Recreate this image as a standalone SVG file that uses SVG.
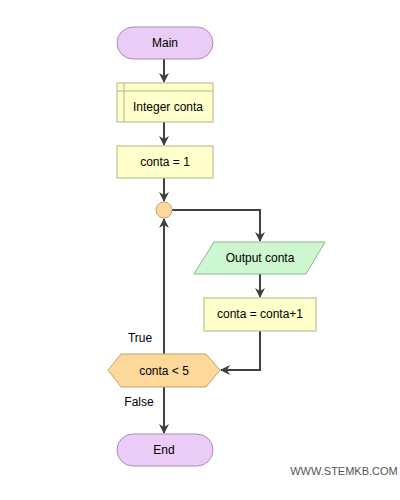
<svg xmlns="http://www.w3.org/2000/svg" width="400" height="500" viewBox="0 0 400 500">
<defs>
<marker id="ah" viewBox="0 0 10 10" refX="9" refY="5" markerWidth="10" markerHeight="10" markerUnits="userSpaceOnUse" orient="auto">
<path d="M0,0 L10,5 L0,10 L3,5 Z" fill="#404040"/>
</marker>
<style>
text{font-family:"Liberation Sans",Arial,sans-serif;font-size:12px;fill:#000;text-anchor:middle;dominant-baseline:central}
.term{fill:#EBCCF7;stroke:#A98BB5;stroke-width:1}
.proc{fill:#FFFFCC;stroke:#B4B486;stroke-width:1}
.io{fill:#CCF7CF;stroke:#8DB591;stroke-width:1}
.dec{fill:#FCD99A;stroke:#C1A26B;stroke-width:1}
.conn{fill:none;stroke:#404040;stroke-width:2}
.lbl{text-anchor:middle}
</style>
</defs>
<rect width="400" height="500" fill="#FFFFFF"/>
<g id="connectors">
<line class="conn" x1="164" y1="59" x2="164" y2="82" marker-end="url(#ah)"/>
<line class="conn" x1="164" y1="122" x2="164" y2="145" marker-end="url(#ah)"/>
<line class="conn" x1="164" y1="178" x2="164" y2="201" marker-end="url(#ah)"/>
<polyline class="conn" points="172,210 260,210 260,241" marker-end="url(#ah)"/>
<line class="conn" x1="260" y1="274" x2="260" y2="297" marker-end="url(#ah)"/>
<polyline class="conn" points="260,331 260,370 221,370" marker-end="url(#ah)"/>
<line class="conn" x1="164" y1="354" x2="164" y2="219" marker-end="url(#ah)"/>
<line class="conn" x1="164" y1="387" x2="164" y2="433" marker-end="url(#ah)"/>
<text x="140" y="338">True</text>
<text x="139" y="402">False</text>
</g>
<g id="main">
<rect class="term" x="117" y="27" width="96" height="32" rx="16" ry="16"/>
<text x="165" y="43">Main</text>
</g>
<g id="declare">
<rect class="proc" x="117" y="83" width="96" height="39"/>
<line class="proc" x1="124" y1="83" x2="124" y2="122"/>
<line class="proc" x1="117" y1="91" x2="213" y2="91"/>
<text x="168" y="107">Integer conta</text>
</g>
<g id="assign1">
<rect class="proc" x="117" y="146" width="96" height="32"/>
<text x="165" y="162">conta = 1</text>
</g>
<g id="loopjoin">
<circle class="dec" cx="164" cy="210" r="8"/>
</g>
<g id="output">
<polygon class="io" points="214,242 325,242 306,274 194,274"/>
<text x="260" y="258">Output conta</text>
</g>
<g id="increment">
<rect class="proc" x="204" y="298" width="112" height="33"/>
<text x="260" y="314">conta = conta+1</text>
</g>
<g id="decision">
<polygon class="dec" points="108,370 121,354 206,354 220,370 206,387 121,387"/>
<text x="164" y="371">conta &lt; 5</text>
</g>
<g id="end">
<rect class="term" x="117" y="434" width="96" height="32" rx="16" ry="16"/>
<text x="164" y="450">End</text>
</g>
<text x="344" y="471" style="font-size:11px;fill:#555555">WWW.STEMKB.COM</text>
</svg>
